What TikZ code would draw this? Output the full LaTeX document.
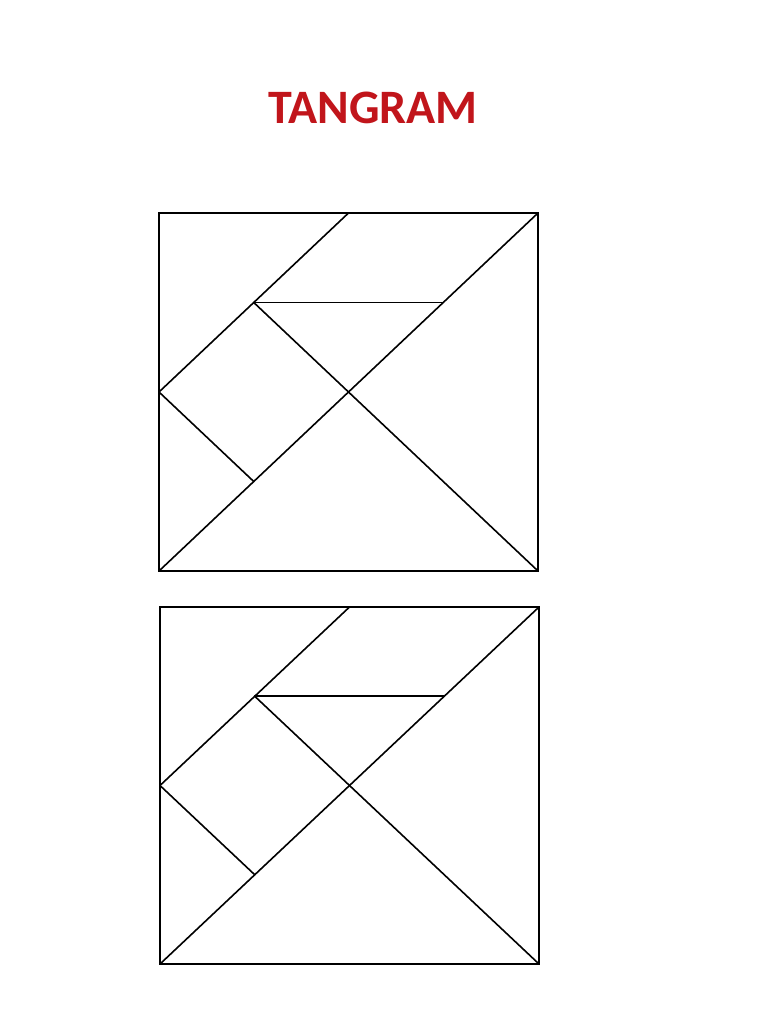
\documentclass[tikz,border=0pt]{standalone}
\usepackage{fontspec}
\setmainfont{Carlito}
\usetikzlibrary{calc}
\definecolor{titlered}{HTML}{C1151B}
\tikzset{
  outer/.style={line width=2.4pt, line join=miter, draw=black},
  inner/.style={line width=1.6pt, draw=black, line cap=round},
  titletext/.style={font=\bfseries\fontsize{48}{52}\selectfont, text=titlered, inner sep=0pt, anchor=center}
}
\newcommand{\tangram}[5]{%
  % #1 name prefix, #2 x0, #3 y0 (top), #4 x1, #5 y1 (bottom)
  \coordinate (#1-bl) at (#2,#5);
  \coordinate (#1-tr) at (#4,#3);
  \coordinate (#1-tl) at (#2,#3);
  \coordinate (#1-br) at (#4,#5);
  \coordinate (#1-tm) at ($(#1-tl)!0.5!(#1-tr)$);
  \coordinate (#1-lm) at ($(#1-tl)!0.5!(#1-bl)$);
  \coordinate (#1-a) at ($(#1-bl)!0.25!(#1-br) + 0.75*($(#1-tl)-(#1-bl)$)$);
  \coordinate (#1-b) at ($(#1-bl)!0.75!(#1-br) + 0.75*($(#1-tl)-(#1-bl)$)$);
  \coordinate (#1-d) at ($(#1-bl)!0.25!(#1-br) + 0.25*($(#1-tl)-(#1-bl)$)$);
  \draw[outer] (#1-tl) rectangle (#1-br);
  \draw[inner] (#1-bl) -- (#1-tr);
  \draw[inner] (#1-tm) -- (#1-lm);
  \draw[inner] (#1-a) -- (#1-b);
  \draw[inner] (#1-a) -- (#1-br);
  \draw[inner] (#1-lm) -- (#1-d);
}
\begin{document}
\begin{tikzpicture}[x=1pt,y=-1pt]
  \useasboundingbox[fill=white] (0,0) rectangle (768,1024);
  \node[titletext] (title) at (373,108) {TANGRAM};
  \tangram{s1}{159}{213}{538}{571}
  \tangram{s2}{160}{607}{539}{964}
\end{tikzpicture}
\end{document}
